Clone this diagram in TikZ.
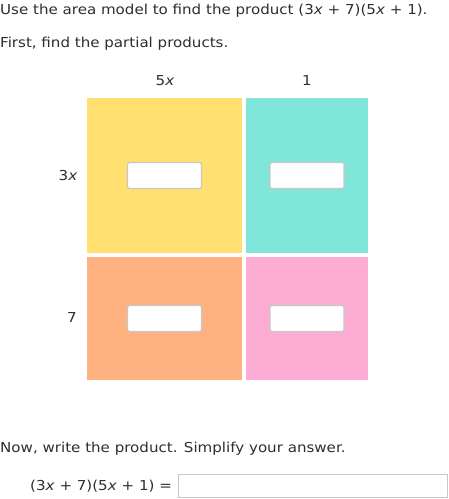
\documentclass[tikz,border=0pt]{standalone}
\usepackage{fontspec}
\setmainfont[FakeStretch=1.1]{DejaVu Sans}
\usepackage{xcolor}
\definecolor{cellyellow}{HTML}{FFE070}
\definecolor{cellteal}{HTML}{7FE6D9}
\definecolor{cellorange}{HTML}{FDB280}
\definecolor{cellpink}{HTML}{FDADD4}
\definecolor{boxgray}{HTML}{C8C8C8}
\definecolor{txtgray}{HTML}{2E2E2E}

\tikzset{
    cell/.style={inner sep=0pt, outer sep=0pt},
    answerbox/.style={draw=boxgray, line width=1.2pt, fill=white, rounded corners=1.5pt,
        minimum width=74pt, minimum height=26pt, inner sep=0pt},
    txt/.style={anchor=west, inner sep=0pt, font=\fontsize{13.7}{16}\selectfont, text=txtgray},
    lbl/.style={inner sep=0pt, font=\fontsize{13.7}{16}\selectfont, text=txtgray}
}

\begin{document}
\begin{tikzpicture}[x=1pt, y=-1pt]
\useasboundingbox (0,0) rectangle (449,499);
% question text
\node[txt] (q1) at (0,11) {Use the area model to find the product (3\textit{x} + 7)(5\textit{x} + 1).};
\node[txt] (q2) at (0,44) {First, find the partial products.};
% area model cells
\foreach \nm/\cx/\cy/\w/\h/\col in {
    ya/164.5/175.5/155/155/cellyellow, yb/307/175.5/122/155/cellteal,
    sa/164.5/318.5/155/123/cellorange, sb/307/318.5/122/123/cellpink%
}{
    \node[cell, fill=\col, minimum width=\w pt, minimum height=\h pt] (\nm) at (\cx,\cy) {};
    \node[answerbox] (\nm-in) at (\nm.center) {};
}
% side labels
\node[lbl] (c1) at (165,81) {5\textit{x}};
\node[lbl] (c2) at (307,81) {1};
\node[lbl] (r1) at (68,176) {3\textit{x}};
\node[lbl] (r2) at (72,318) {7};
% final answer
\node[txt] (q3) at (0,449) {Now, write the product. Simplify your answer.};
\node[txt] (lhs) at (30,486) {(3\textit{x} + 7)(5\textit{x} + 1) =};
\node[answerbox, anchor=west, minimum width=269pt, minimum height=23pt, rounded corners=0pt, line width=0.8pt] (ans) at (178,485.5) {};
\end{tikzpicture}
\end{document}
